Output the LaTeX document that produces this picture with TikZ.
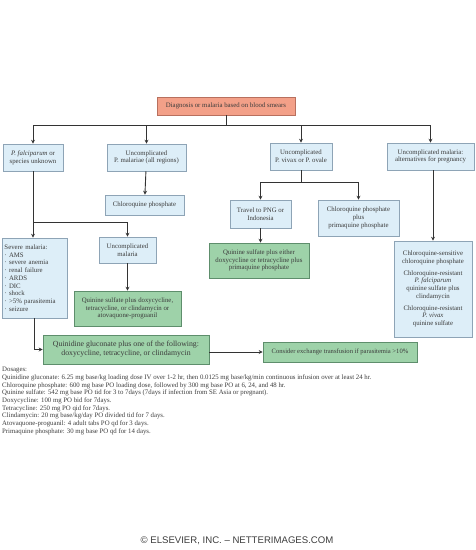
\documentclass[tikz,border=0pt]{standalone}
\usepackage{fontspec}
\setmainfont{Liberation Serif}
\setsansfont{Liberation Sans}
\usetikzlibrary{positioning, arrows.meta, calc}
\definecolor{mlBlue}{HTML}{DDEEF8}
\definecolor{mlBlueLine}{HTML}{8EA4B6}
\definecolor{mlGreen}{HTML}{9ED2A9}
\definecolor{mlGreenLine}{HTML}{5E8E6C}
\definecolor{mlSalmon}{HTML}{F3A088}
\definecolor{mlSalmonLine}{HTML}{B8705E}
\definecolor{mlText}{HTML}{3C3C3C}
\definecolor{mlLine}{HTML}{333333}

\begin{document}
\begin{tikzpicture}[x=1pt, y=-1pt,
    mlHead/.style={draw=mlSalmonLine, line width=0.5pt, rectangle, fill=mlSalmon, text=mlText, align=center, inner sep=1pt, font=\fontsize{6.8}{7.7}\selectfont},
    mlBox/.style={draw=mlBlueLine, line width=0.6pt, rectangle, fill=mlBlue, text=mlText, align=center, inner sep=1pt, font=\fontsize{6.8}{7.7}\selectfont},
    mlDrug/.style={draw=mlGreenLine, line width=0.6pt, rectangle, fill=mlGreen, text=mlText, align=center, inner sep=1pt, font=\fontsize{6.8}{7.7}\selectfont},
    mlLink/.style={draw=mlLine, line width=0.9pt},
    mlArrow/.style={mlLink, -{Stealth[length=4pt, width=4pt]}},
]
\useasboundingbox (0,0) rectangle (475,550);
\node[mlHead, minimum width=138pt, minimum height=18pt] (diag) at (226,106) {Diagnosis or malaria based on blood smears};
\node[mlBox, minimum width=60pt, minimum height=27pt] (falc) at (33,157.5) {\textit{P. falciparum} or\\species unknown};
\node[mlBox, minimum width=79pt, minimum height=27pt] (malariae) at (146.5,157.5) {Uncomplicated\\P. malariae (all regions)};
\node[mlBox, minimum width=62pt, minimum height=27pt] (vivax) at (301,156.5) {Uncomplicated\\P. vivax or P. ovale};
\node[mlBox, minimum width=87pt, minimum height=27pt] (pregAlt) at (430.5,156.5) {Uncomplicated malaria:\\alternatives for pregnancy};
\node[mlBox, minimum width=79pt, minimum height=20pt] (cqp) at (144.5,205) {Chloroquine phosphate};
\node[mlBox, minimum width=65pt, minimum height=80pt, align=left, text width=60pt] (severe) at (34.5,278) {Severe malaria:\\
  · AMS\\· severe anemia\\· renal failure\\· ARDS\\· DIC\\· shock\\· >5\% parasitemia\\· seizure};
\node[mlBox, minimum width=57pt, minimum height=26pt] (uncomp) at (127.5,250) {Uncomplicated\\malaria};
\node[mlDrug, minimum width=107pt, minimum height=35pt] (qdt) at (127.5,308.5) {Quinine sulfate plus doxycycline,\\tetracycline, or clindamycin or\\atovaquone-proguanil};
\node[mlBox, minimum width=61pt, minimum height=28pt] (travel) at (260.5,214) {Travel to PNG or\\Indonesia};
\node[mlBox, minimum width=81pt, minimum height=36pt] (cqpq) at (358.5,218) {Chloroquine phosphate\\plus\\primaquine phosphate};
\node[mlDrug, minimum width=100pt, minimum height=35pt] (qdp) at (259,260.5) {Quinine sulfate plus either\\doxycycline or tetracycline plus\\primaquine phosphate};
\node[mlBox, minimum width=78pt, minimum height=96pt] (preg) at (433,289) {Chloroquine-sensitive\\chloroquine phosphate\\[4pt]
  Chloroquine-resistant\\\textit{P. falciparum}\\quinine sulfate plus\\clindamycin\\[4pt]
  Chloroquine-resistant\\\textit{P. vivax}\\quinine sulfate};
\node[mlDrug, minimum width=166pt, minimum height=29pt, font=\fontsize{7.8}{9}\selectfont] (quinid) at (126,349.5) {Quinidine gluconate plus one of the following:\\doxycycline, tetracycline, or clindamycin};
\node[mlDrug, minimum width=154pt, minimum height=20pt, font=\fontsize{6.6}{7.5}\selectfont] (exch) at (340,352) {Consider exchange transfusion if parasitemia >10\%};
\node[anchor=north west, align=left, inner sep=0pt, text=mlText, font=\fontsize{6.8}{7.7}\selectfont] (dosage) at (2,367) {Dosages:\\
  Quinidine gluconate: 6.25 mg base/kg loading dose IV over 1-2 hr, then 0.0125 mg base/kg/min continuous infusion over at least 24 hr.\\
  Chloroquine phosphate: 600 mg base PO loading dose, followed by 300 mg base PO at 6, 24, and 48 hr.\\
  Quinine sulfate: 542 mg base PO tid for 3 to 7days (7days if infection from SE Asia or pregnant).\\
  Doxycycline: 100 mg PO bid for 7days.\\
  Tetracycline: 250 mg PO qid for 7days.\\
  Clindamycin: 20 mg base/kg/day PO divided tid for 7 days.\\
  Atovaquone-proguanil: 4 adult tabs PO qd for 3 days.\\
  Primaquine phosphate: 30 mg base PO qd for 14 days.};
\node[text=mlText, font=\sffamily\fontsize{9.6}{11}\selectfont] (credit) at (237,541) {© ELSEVIER, INC. – NETTERIMAGES.COM};
% connectors
\coordinate (busTop) at (226,125);
\coordinate (falcSplit) at (33,222);
\coordinate (vivSplit) at (301,182);
\draw[mlLink] (diag.south) -- (busTop);
\draw[mlArrow] (busTop) -| (falc.north);
\draw[mlArrow] (busTop) -| (malariae.north);
\draw[mlArrow] (busTop) -| (vivax.north);
\draw[mlArrow] (busTop) -| (pregAlt.north);
\draw[mlArrow] (malariae) -- (cqp);
\draw[mlArrow] (falc.south) -- (falc.south |- severe.north);
\draw[mlArrow] (falcSplit) -| (uncomp.north);
\draw[mlArrow] (uncomp) -- (qdt);
\draw[mlArrow] (severe.south) |- (quinid.west);
\draw[mlArrow] (quinid.east |- exch) -- (exch.west);
\draw[mlLink] (vivax.south) -- (vivSplit);
\draw[mlArrow] (vivSplit) -| (travel.north);
\draw[mlArrow] (vivSplit) -| (cqpq.north);
\draw[mlArrow] (travel) -- (travel |- qdp.north);
\draw[mlArrow] (pregAlt.south -| preg) -- (preg.north);
\end{tikzpicture}
\end{document}
